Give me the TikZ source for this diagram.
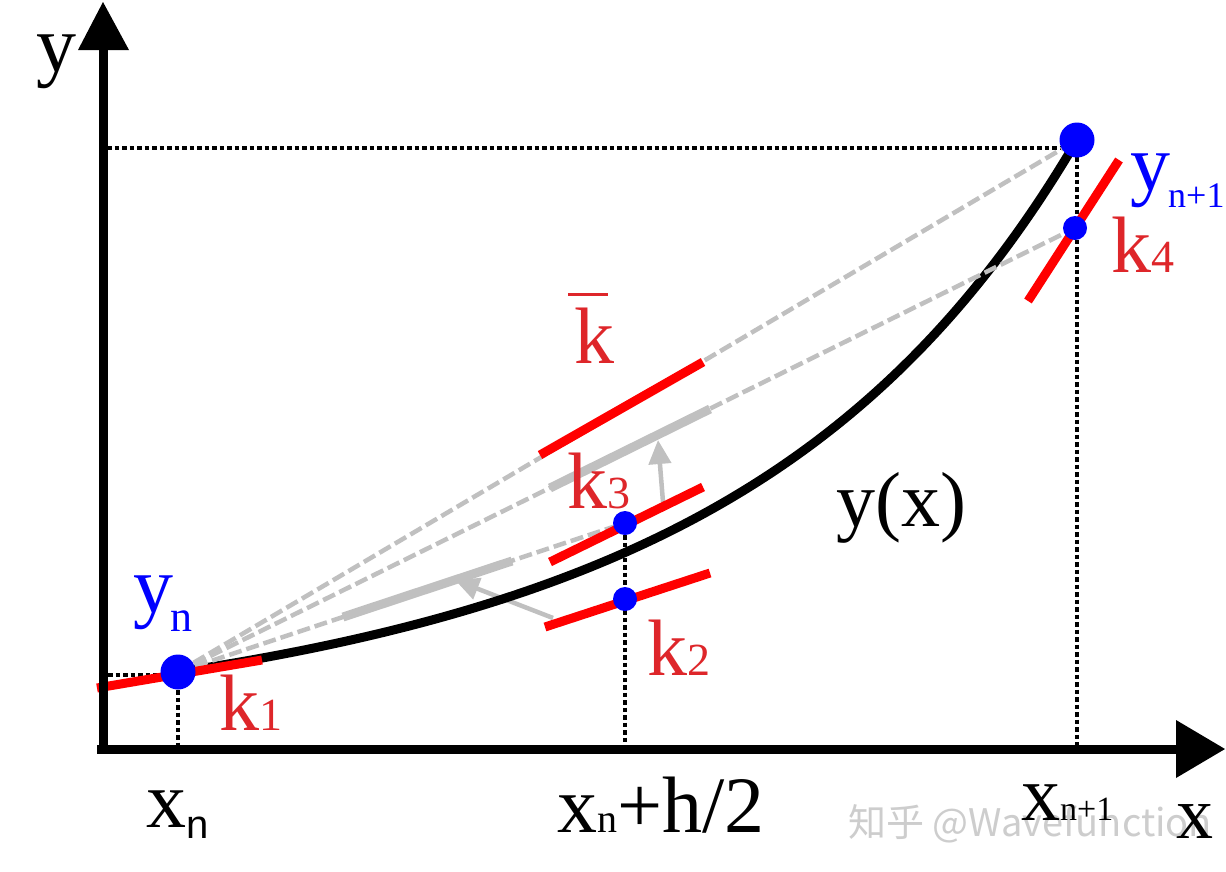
\documentclass[tikz,border=0pt]{standalone}
\usepackage{fontspec}
\setmainfont{Liberation Serif}
\newfontfamily\sansf{Liberation Sans}
\newfontfamily\cjkf{Noto Sans CJK SC}
\usetikzlibrary{arrows.meta}
\definecolor{dotblue}{RGB}{0,0,255}
\definecolor{lred}{RGB}{255,0,0}
\definecolor{tred}{RGB}{222,38,42}
\definecolor{lgray}{RGB}{192,192,192}
\definecolor{wgray}{RGB}{205,205,205}
\newcommand{\bigf}{\fontsize{80}{80}\selectfont}
\newcommand{\ksub}{\fontsize{46}{46}\selectfont}
\begin{document}
\begin{tikzpicture}[x=1pt,y=-1pt,
  axisline/.style={line width=9pt},
  guide/.style={line width=4.5pt, dash pattern=on 4.5pt off 3pt},
  slopeline/.style={lgray, line width=4.5pt, dash pattern=on 13pt off 5pt},
  slopebar/.style={lgray, line width=9pt},
  shiftarrow/.style={lgray, line width=4.5pt, -{Triangle[length=24pt,width=22pt]}},
  tangent/.style={lred, line width=9pt},
  curve/.style={line width=9pt},
  bigdot/.style={circle, fill=dotblue, inner sep=0pt, minimum size=35pt},
  smalldot/.style={circle, fill=dotblue, inner sep=0pt, minimum size=24pt},
  lbl/.style={inner sep=0pt, anchor=base west},
]
\fill[white] (0,0) rectangle (1226,871);
\useasboundingbox (0,0) rectangle (1226,871);

% key points
\coordinate (pyn) at (178,672);
\coordinate (pyn1) at (1077,140);
\coordinate (pk4) at (1075,228);
\coordinate (pk3) at (625,523);
\coordinate (pk2) at (625,599);

% dotted guides
\coordinate (gh1a) at (107,148);
\coordinate (gh1b) at (1062,148);
\coordinate (gv1a) at (1077,157);
\coordinate (gv1b) at (1077,745);
\coordinate (gh2a) at (108,675);
\coordinate (gh2b) at (162,675);
\coordinate (gv2a) at (178,690);
\coordinate (gv2b) at (178,745);
\coordinate (gv3a) at (625,535);
\coordinate (gv3b) at (625,745);
\draw[guide] (gh1a) -- (gh1b);
\draw[guide] (gv1a) -- (gv1b);
\draw[guide] (gh2a) -- (gh2b);
\draw[guide] (gv2a) -- (gv2b);
\draw[guide] (gv3a) -- (gv3b);

% watermark
\node[lbl, text=wgray] (wm) at (848,836) {\cjkf\fontsize{38}{38}\selectfont 知乎 @Wavefunction};

% gray arrows
\coordinate (a1s) at (553,618);
\coordinate (a1e) at (455,580);
\coordinate (a2s) at (663,502);
\coordinate (a2e) at (658,440);
\draw[shiftarrow] (a1s) -- (a1e);
\draw[shiftarrow] (a2s) -- (a2e);

% solution curve
\draw[curve] (pyn) .. controls (628,604) and (887,463) .. (pyn1);

% slope lines from y_n
\draw[slopeline] (pyn) -- (pyn1);
\draw[slopeline] (pyn) -- (pk4);
\draw[slopeline] (pyn) -- (pk3);
\coordinate (sb1a) at (550,488);
\coordinate (sb1b) at (710,409);
\coordinate (sb2a) at (343,617);
\coordinate (sb2b) at (512,561);
\draw[slopebar] (sb1a) -- (sb1b);
\draw[slopebar] (sb2a) -- (sb2b);

% tangent segments
\coordinate (t1a) at (97,688);
\coordinate (t1b) at (262,660);
\coordinate (t2a) at (545,627);
\coordinate (t2b) at (710,573);
\coordinate (t3a) at (550,562);
\coordinate (t3b) at (703,487);
\coordinate (tba) at (540,455);
\coordinate (tbb) at (703,362);
\coordinate (t4a) at (1028,301);
\coordinate (t4b) at (1119,160);
\draw[tangent] (t1a) -- (t1b);
\draw[tangent] (t2a) -- (t2b);
\draw[tangent] (t3a) -- (t3b);
\draw[tangent] (tba) -- (tbb);
\draw[tangent] (t4a) -- (t4b);

% axes
\coordinate (O) at (103,749);
\coordinate (ybot) at (103,753);
\coordinate (ytop) at (103,45);
\coordinate (xleft) at (97,749);
\coordinate (xright) at (1180,749);
\draw[axisline] (ybot) -- (ytop);
\draw[axisline] (xleft) -- (xright);
\fill (78,50) -- (103,2) -- (129,50) -- cycle;
\fill (1176,720) -- (1225,749) -- (1176,778) -- cycle;

% dots
\node[bigdot] (yn) at (pyn) {};
\node[bigdot] (yn1) at (pyn1) {};
\node[smalldot] (k4) at (pk4) {};
\node[smalldot] (k3) at (pk3) {};
\node[smalldot] (k2) at (pk2) {};

% labels
\node[lbl] (ylab) at (36,71) {\bigf y};
\node[lbl] (xlab) at (1176,838) {\fontsize{74}{74}\selectfont x};
\node[lbl, text=dotblue] (ynlab) at (133,612) {\bigf y\kern-3pt\raisebox{-19pt}{\fontsize{44}{44}\selectfont n}};
\node[lbl, text=dotblue] (yn1lab) at (1130,190) {\bigf y\kern-2pt\raisebox{-17pt}{\fontsize{36}{36}\selectfont n+1}};
\node[lbl, text=tred] (k1lab) at (219,730) {\bigf k{\ksub 1}};
\node[lbl, text=tred] (k2lab) at (647,675) {\bigf k{\ksub 2}};
\node[lbl, text=tred] (k3lab) at (567,508) {\bigf k{\ksub 3}};
\node[lbl, text=tred] (k4lab) at (1111,272) {\bigf k{\ksub 4}};
\node[lbl, text=tred] (kbarlab) at (574,363) {\rlap{\kern-6pt\raisebox{67pt}{\rule{40pt}{3.5pt}}}\bigf k};
\node[lbl] (yxlab) at (836,526) {\fontsize{78}{78}\selectfont y(x)};
\node[lbl] (xnlab) at (146,827) {\bigf x\raisebox{-11pt}{\sansf\fontsize{40}{40}\selectfont n}};
\node[lbl] (xhlab) at (557,832) {\bigf x{\fontsize{40}{40}\selectfont n}+h/2};
\node[lbl] (xn1lab) at (1021,820) {\fontsize{78}{78}\selectfont x{\fontsize{34}{34}\selectfont n+1}};
\end{tikzpicture}
\end{document}
